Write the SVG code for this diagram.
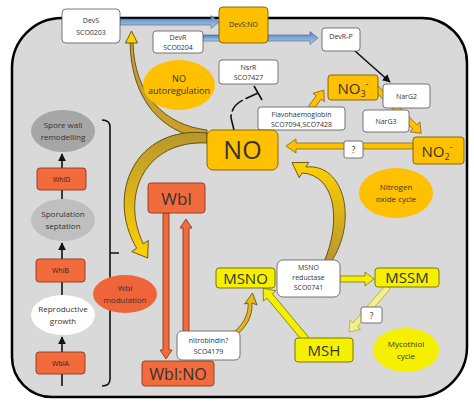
<svg xmlns="http://www.w3.org/2000/svg" width="474" height="411" viewBox="0 0 474 411">
<defs>
<style>
text{font-family:"Open Sans","Liberation Sans",sans-serif;fill:#333;text-anchor:middle}
.wb{fill:#fff;stroke:#555;stroke-width:0.8}
.yo{fill:#ffc000;stroke:#7a5c00;stroke-width:0.9}
.yy{fill:#f5f000;stroke:#6e6b00;stroke-width:0.9}
.or{fill:#f26b3d;stroke:#8b3a1f;stroke-width:0.9}
.ayo{fill:#ffc000;stroke:#7a5c00;stroke-width:0.7}
.ayy{fill:#f5f000;stroke:#6e6b00;stroke-width:0.7}
.ablue{fill:url(#gb);stroke:#3a64a0;stroke-width:0.6}
.blk{fill:none;stroke:#111;stroke-width:1.6}
.s7{font-size:7px}
.s8{font-size:8px}
.s9{font-size:9px}
.s15{font-size:15px}
.ot{fill:#4a1a0a}
</style>
<linearGradient id="gb" x1="0" y1="0" x2="0" y2="1">
<stop offset="0" stop-color="#4f81bd"/><stop offset="1" stop-color="#b9cde5"/>
</linearGradient>
<linearGradient id="g1" x1="0" y1="0" x2="0" y2="1">
<stop offset="0" stop-color="#b8962e"/><stop offset="1" stop-color="#ffd200"/>
</linearGradient>
<linearGradient id="g2" x1="0" y1="1" x2="0" y2="0">
<stop offset="0" stop-color="#b8962e"/><stop offset="1" stop-color="#ffd200"/>
</linearGradient>
<linearGradient id="g3" x1="1" y1="1" x2="0" y2="0">
<stop offset="0" stop-color="#c9a12a"/><stop offset="1" stop-color="#ffd200"/>
</linearGradient>
<marker id="ah" viewBox="0 0 10 10" refX="9" refY="5" markerWidth="5" markerHeight="5" orient="auto">
<path d="M0,0 L10,5 L0,10 Z" fill="#111"/>
</marker>
</defs>

<path id="cell" d="M62,18 H422 A45,45 0 0 1 467,63 V347 A50,50 0 0 1 417,397 H52 A40,40 0 0 1 12,357 V68 A50,50 0 0 1 62,18 Z" fill="#d9d9d9" stroke="#000" stroke-width="2.5"/>

<g id="connectors">
<!-- blue arrows -->
<polygon class="ablue" points="120,19 211,19 211,15.5 219,22 211,28.5 211,25 120,25"/>
<rect class="ablue" x="203" y="35" width="17" height="6"/>
<polygon class="ablue" points="268,35 310,35 310,31.5 318,38 310,44.5 310,41 268,41"/>
<!-- black arrow DevR-P -> NarG2 -->
<line class="blk" x1="355" y1="51" x2="390" y2="82" marker-end="url(#ah)"/>
<!-- left column -->
<line class="blk" x1="62" y1="168" x2="62" y2="154" marker-end="url(#ah)"/>
<line class="blk" x1="62" y1="190" x2="62" y2="199"/>
<line class="blk" x1="62" y1="259" x2="62" y2="243" marker-end="url(#ah)"/>
<line class="blk" x1="62" y1="282" x2="62" y2="295"/>
<line class="blk" x1="62" y1="352" x2="62" y2="337" marker-end="url(#ah)"/>
<line class="blk" x1="62" y1="374" x2="62" y2="386"/>
<path class="blk" d="M102,120 Q110,120 110,127 V379 Q110,386 102,386 M110,253 H119" stroke-width="2"/>
<!-- inhibition NO -| NsrR -->
<path class="blk" d="M234,130 L231,118 Q231,106 243,100 L258,93" stroke-width="2" stroke-dasharray="16 3"/>
<line class="blk" x1="254" y1="86" x2="262" y2="100" stroke-width="2.2"/>
<!-- yellow straight arrows -->
<polygon class="ayo" transform="translate(311,108) rotate(-54.2)" points="0,-3 13,-3 13,-7 22,0 13,7 13,3 0,3"/>
<polygon class="ayo" transform="translate(376,88) rotate(45)" points="0,-3 55,-3 55,-7 64,0 55,7 55,3 0,3"/>
<polygon class="ayo" points="413,143 296,143 296,139 286,146 296,153 296,149 413,149"/>
<polygon class="ayy" points="340,276 365,276 365,272 374,279 365,286 365,282 340,282"/>
<polygon class="ayy" transform="translate(308,342) rotate(-129.8)" points="0,-3.5 60,-3.5 60,-8 70,0 60,8 60,3.5 0,3.5"/>
<polygon transform="translate(388,287) rotate(130.9)" points="0,-3 50,-3 50,-7 59.5,0 50,7 50,3 0,3" fill="#f3ef8a" stroke="#a8a350" stroke-width="0.7"/>
<!-- orange arrows -->
<polygon class="or" points="163,213 163,350 160,350 166,359 172,350 169,350 169,213"/>
<polygon class="or" points="183,332 183,228 180,228 186,219 192,228 189,228 189,332"/>
<!-- curved: NO -> DevS -->
<path d="M207,139 C162,134 131,100 130,42 L133,42 C134,95 165,125 207,130 Z" fill="#c9a12a" stroke="#4a3a08" stroke-width="0.8"/>
<polygon points="125.5,43 131.5,31 137.5,43" fill="#ffd200" stroke="#4a3a08" stroke-width="0.8"/>
<!-- curved: NO -> Wbl:NO -->
<path d="M207,133 C135,125 105,195 136.7,248.2 L131.7,251.5 L147.7,258 L148.3,240.5 L143.3,243.8 C120,195 145,140 207,143 Z" fill="url(#g1)" stroke="#4a3a08" stroke-width="0.8"/>
<!-- curved: MSNO reductase -> NO -->
<path d="M331,262 C358,222 345,163 305.9,167 L308.8,162.4 L292,162.6 L299.2,177.7 L302.1,173 C335,175 342,220 324,262 Z" fill="url(#g2)" stroke="#4a3a08" stroke-width="0.8"/>
<!-- small curved: nitrobindin -> MSNO -->
<path d="M233,333 C244,324 249,313 248,303 L244.5,304 L252.5,293 L257,305 L252,303 C253,316 246,328 236,335 Z" fill="url(#g3)" stroke="#4a3a08" stroke-width="0.7"/>
</g>

<g id="devs"><rect class="wb" x="62" y="9" width="58" height="34" rx="4"/><text class="s7" x="91" y="23">DevS</text><text class="s7" x="91" y="35">SCO0203</text></g>
<g id="devsno"><rect class="yo" x="219" y="7" width="49" height="36" rx="4"/><text class="s7" x="243.5" y="27">DevS:NO</text></g>
<g id="devr"><rect class="wb" x="153" y="31" width="50" height="22" rx="3"/><text class="s7" x="178" y="40">DevR</text><text class="s7" x="178" y="50">SCO0204</text></g>
<g id="devrp"><rect class="wb" x="322" y="28" width="38" height="23" rx="3"/><text class="s7" x="341" y="39">DevR-P</text></g>
<g id="noauto"><ellipse cx="179" cy="85" rx="36" ry="25" fill="#ffc000"/><text class="s9" x="179" y="82">NO</text><text class="s9" x="179" y="94">autoregulation</text></g>
<g id="nsrr"><rect class="wb" x="219" y="60" width="59" height="24" rx="3"/><text class="s7" x="248.5" y="70">NsrR</text><text class="s7" x="248.5" y="80">SCO7427</text></g>
<g id="flavo"><rect class="wb" x="258" y="107" width="87" height="23" rx="3"/><text class="s7" x="301.5" y="117">Flavohaemoglobin</text><text class="s7" x="301.5" y="127">SCO7094,SCO7428</text></g>
<g id="no3"><rect class="yo" x="328" y="75" width="50" height="25" rx="3"/><text class="s15" x="353" y="94">NO<tspan font-size="9" dy="3">3</tspan><tspan font-size="9" dy="-10">-</tspan></text></g>
<g id="narg2"><rect class="wb" x="383" y="84" width="47" height="24" rx="3"/><text class="s7" x="406.5" y="98.5">NarG2</text></g>
<g id="narg3"><rect class="wb" x="363" y="110" width="46" height="22" rx="3"/><text class="s7" x="386" y="123.5">NarG3</text></g>
<g id="no"><rect class="yo" x="207" y="130" width="71" height="40" rx="6"/><text x="242.5" y="159" font-size="25">NO</text></g>
<g id="q1"><rect class="wb" x="344" y="141" width="19" height="17" rx="2"/><text class="s9" x="353.5" y="153">?</text></g>
<g id="no2"><rect class="yo" x="413" y="137" width="51" height="27" rx="3"/><text class="s15" x="437" y="157">NO<tspan font-size="9" dy="3">2</tspan><tspan font-size="9" dy="-10">-</tspan></text></g>
<g id="nocycle"><ellipse cx="396" cy="193" rx="37" ry="25" fill="#ffc000"/><text class="s8" x="396" y="190">Nitrogen</text><text class="s8" x="396" y="202">oxide cycle</text></g>
<g id="spore"><ellipse cx="63" cy="131" rx="32" ry="21" fill="#a6a6a6"/><text class="s8" x="63" y="128">Spore wall</text><text class="s8" x="63" y="140">remodelling</text></g>
<g id="whid"><rect class="or" x="37" y="168" width="49" height="22" rx="3"/><text class="s7 ot" x="61.5" y="182">WhiD</text></g>
<g id="septation"><ellipse cx="63" cy="220" rx="32" ry="21" fill="#bfbfbf"/><text class="s8" x="63" y="217">Sporulation</text><text class="s8" x="63" y="229">septation</text></g>
<g id="whib"><rect class="or" x="36" y="259" width="49" height="23" rx="3"/><text class="s7 ot" x="60.5" y="273">WhiB</text></g>
<g id="repro"><ellipse cx="63" cy="315" rx="32" ry="20" fill="#fff"/><text class="s8" x="63" y="312">Reproductive</text><text class="s8" x="63" y="324">growth</text></g>
<g id="wbla"><rect class="or" x="36" y="352" width="49" height="22" rx="3"/><text class="s7 ot" x="60.5" y="366">WblA</text></g>
<g id="wblmod"><ellipse cx="125" cy="294" rx="32" ry="19" fill="#f0643a"/><text class="s8" x="125" y="291">Wbl</text><text class="s8" x="125" y="303">modulation</text></g>
<g id="wbl"><rect class="or" x="148" y="183" width="57" height="30" rx="3"/><text x="176.5" y="205" font-size="17">Wbl</text></g>
<g id="wblno"><rect class="or" x="142" y="361" width="72" height="25" rx="3"/><text x="178" y="380" font-size="16">Wbl:NO</text></g>
<g id="nitrobindin"><rect class="wb" x="177" y="331" width="63" height="29" rx="5"/><text class="s7" x="208.5" y="343">nitrobindin?</text><text class="s7" x="208.5" y="354">SCO4179</text></g>
<g id="msno"><rect class="yy" x="216" y="268" width="59" height="20" rx="3"/><text class="s15" x="245.5" y="284">MSNO</text></g>
<g id="msnored"><rect class="wb" x="277" y="260" width="63" height="37" rx="6"/><text class="s7" x="308.5" y="270">MSNO</text><text class="s7" x="308.5" y="280">reductase</text><text class="s7" x="308.5" y="290">SCO0741</text></g>
<g id="mssm"><rect class="yy" x="375" y="268" width="64" height="19" rx="3"/><text class="s15" x="407" y="283">MSSM</text></g>
<g id="q2"><rect class="wb" x="361" y="307" width="21" height="16" rx="2"/><text class="s9" x="371.5" y="318.5">?</text></g>
<g id="msh"><rect class="yy" x="295" y="338" width="58" height="24" rx="3"/><text class="s15" x="324" y="356">MSH</text></g>
<g id="mycothiol"><ellipse cx="406" cy="350" rx="33" ry="22" fill="#f5f000"/><text class="s8" x="406" y="347">Mycothiol</text><text class="s8" x="406" y="359">cycle</text></g>
</svg>
